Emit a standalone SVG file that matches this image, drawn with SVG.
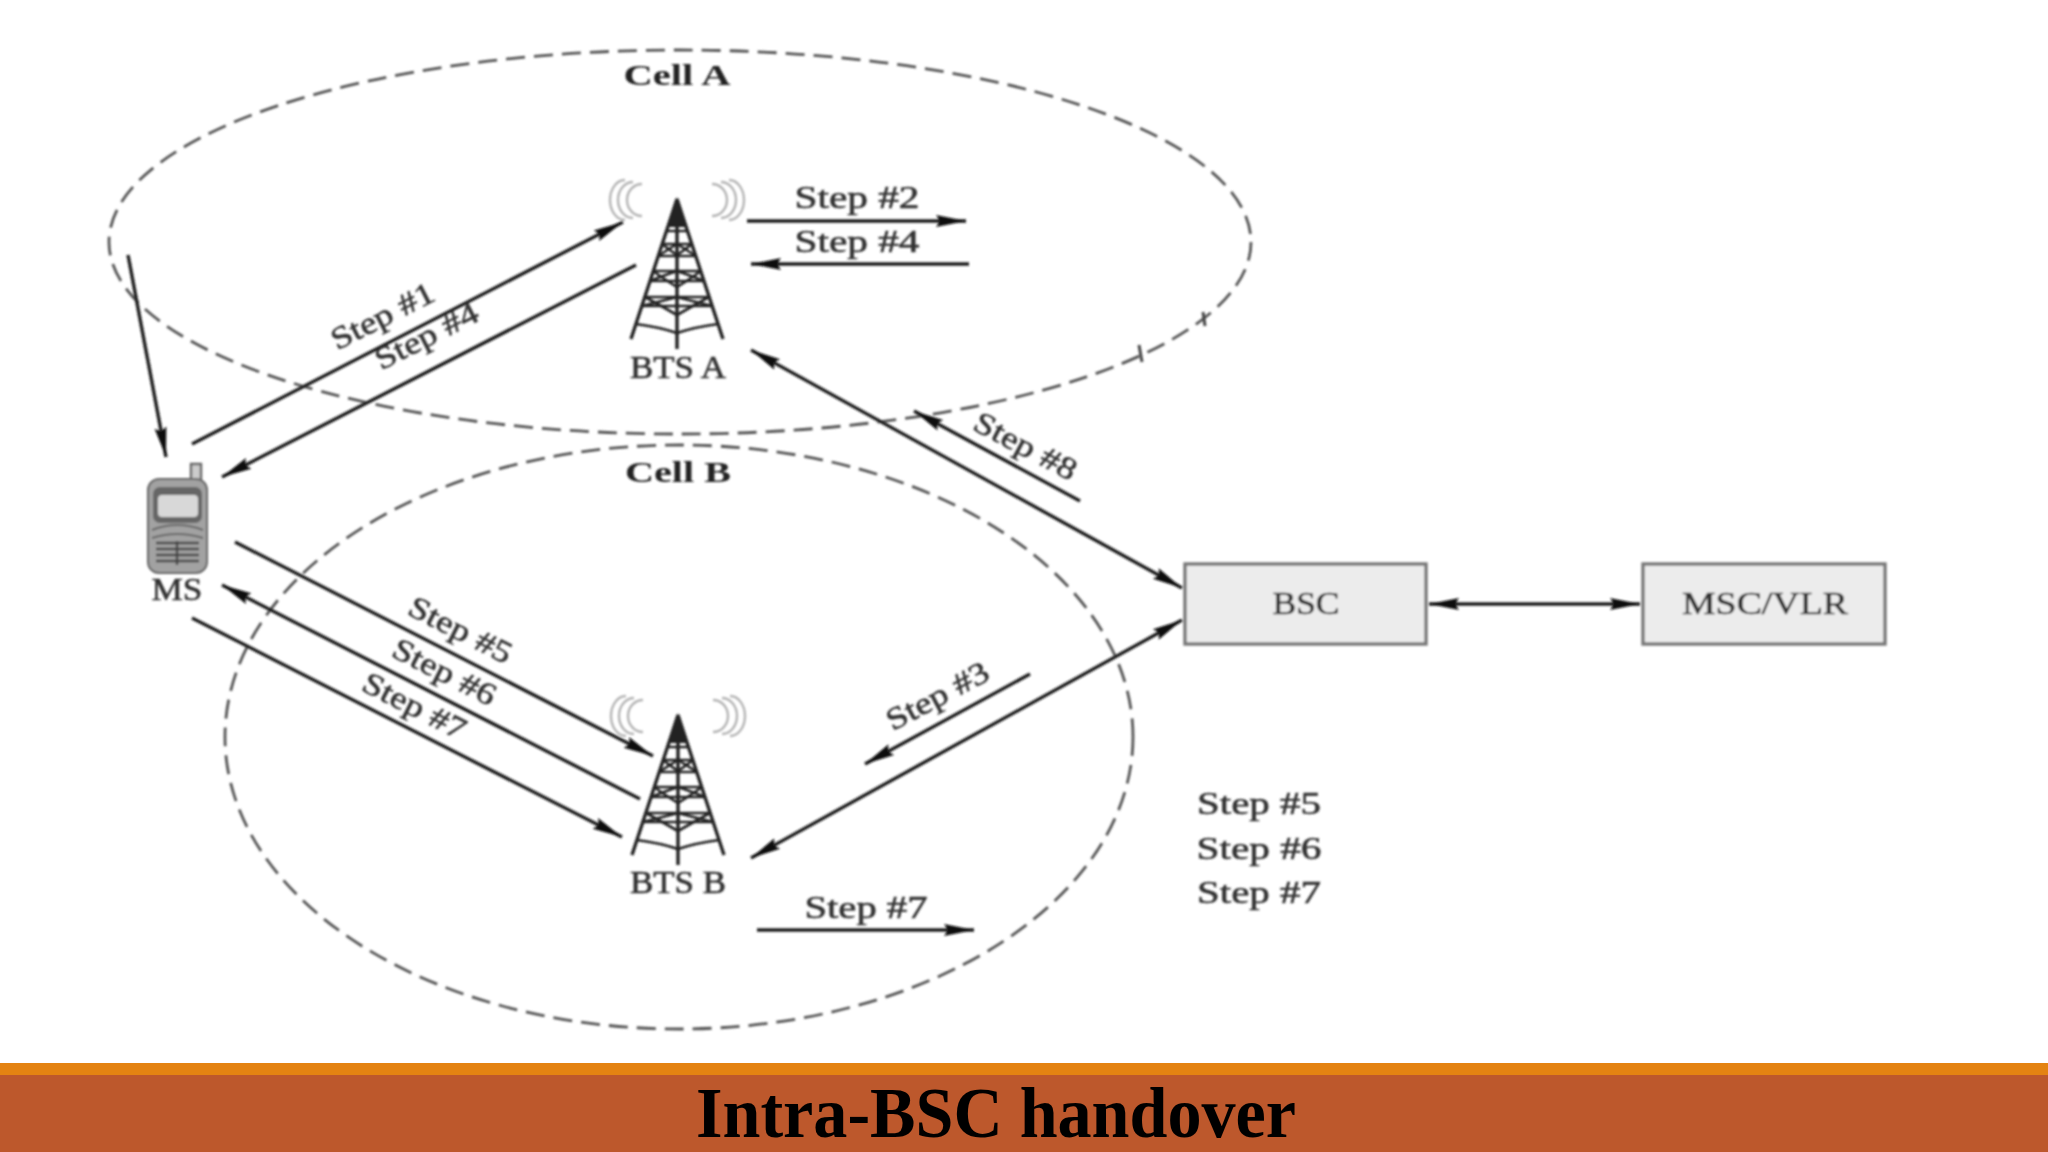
<svg xmlns="http://www.w3.org/2000/svg" xmlns:xlink="http://www.w3.org/1999/xlink" width="2048" height="1152" viewBox="0 0 2048 1152">
<style>
.t{font-family:"Liberation Serif","Times New Roman",serif;font-size:31px;fill:#333;stroke:#333;stroke-width:.6;text-anchor:middle}
.cell{font-family:"Liberation Serif","Times New Roman",serif;font-size:30px;font-weight:bold;fill:#222;text-anchor:middle}
.c{fill:none;stroke:#1c1c1c;stroke-width:3.4}
.a{marker-end:url(#h)}
.b{marker-start:url(#hs);marker-end:url(#h)}
.dash{fill:none;stroke:#555;stroke-width:2.8;stroke-dasharray:19 9}
.box{fill:#ececec;stroke:#777;stroke-width:3.4}
.tw{fill:none;stroke:#222;stroke-width:2.6}
.wv{fill:none;stroke:#b4b4b4;stroke-width:2.4}
.ph{fill:none;stroke:#666;stroke-width:2}
</style>
<defs>
<filter id="blur" x="-5%" y="-5%" width="110%" height="110%"><feGaussianBlur stdDeviation="1"/></filter>
<marker id="h" markerUnits="userSpaceOnUse" markerWidth="32" markerHeight="14" refX="30" refY="7" orient="auto"><path d="M0 1 L30 7 L0 13 L4 7 Z" fill="#111"/></marker>
<marker id="hs" markerUnits="userSpaceOnUse" markerWidth="32" markerHeight="14" refX="2" refY="7" orient="auto"><path d="M32 1 L2 7 L32 13 L28 7 Z" fill="#111"/></marker>
<g id="tower">
<path class="wv" d="M-52-19A15 20 0 0 0-52 21M-44-17A15 18 0 0 0-44 19M-35-15A15 16 0 0 0-35 17"/>
<path class="wv" d="M52-19A15 20 0 0 1 52 21M44-17A15 18 0 0 1 44 19M35-15A15 16 0 0 1 35 17"/>
<path class="tw" style="stroke-width:3.4" d="M0 0L-46 140M0 0L46 140M0 0V150"/>
<path d="M0-2L-9 28H9Z" fill="#222"/>
<path class="tw" d="M-10 32H10M-15 45H15M-19 57H19M-24 72H24M-27 82H27M-32 98H32M-35 107H35"/>
<path class="tw" d="M-15 45Q-6 52 0 56Q6 52 15 45M-24 72Q-10 82 0 88Q10 82 24 72M-32 98Q-14 108 0 116Q14 108 32 98M-41 125Q-18 128 0 134Q18 128 41 125"/>
<path class="tw" d="M-19 57Q-8 50 0 45Q8 50 19 57M-27 82Q-12 76 0 72Q12 76 27 82M-35 107Q-15 102 0 98Q15 102 35 107"/>
</g>
</defs>
<rect width="2048" height="1152" fill="#fff"/>
<g filter="url(#blur)">
<g id="cell-a">
<ellipse class="dash" cx="680" cy="242" rx="571" ry="192"/>
<path d="M1139 345L1142 362M1203 312L1205 326" stroke="#444" stroke-width="3" fill="none"/>
<text class="cell" x="677" y="85" textLength="107" lengthAdjust="spacingAndGlyphs">Cell A</text>
</g>
<g id="cell-b">
<ellipse class="dash" cx="679" cy="737" rx="454" ry="292"/>
<text class="cell" x="678" y="482" textLength="106" lengthAdjust="spacingAndGlyphs">Cell B</text>
</g>
<g id="connectors">
<path class="c a" d="M128 255L166 457"/>
<path class="c a" d="M192 444L623 222"/>
<path class="c a" d="M636 265L222 477"/>
<path class="c a" d="M747 221H966"/>
<path class="c a" d="M969 264H751"/>
<path class="c b" d="M751 350L1182 588"/>
<path class="c a" d="M1080 501L914 411"/>
<path class="c a" d="M1030 674L865 764"/>
<path class="c b" d="M1182 620L751 858"/>
<path class="c a" d="M235 542L653 756"/>
<path class="c a" d="M640 799L222 585"/>
<path class="c a" d="M192 618L622 837"/>
<path class="c a" d="M757 930H974"/>
<path class="c b" d="M1429 604H1640"/>
</g>
<g id="ms">
<path d="M191 484V464H201V484" fill="#ccc" stroke="#666" stroke-width="2.4"/>
<rect x="148" y="479" width="59" height="94" rx="11" fill="#a2a2a2" stroke="#666" stroke-width="2"/>
<rect x="153" y="487" width="49" height="36" rx="7" fill="#666"/>
<rect x="158" y="495" width="40" height="22" rx="4" fill="#d8d8d8"/>
<path class="ph" d="M152 530Q177 520 203 530M152 538Q177 530 203 538"/>
<path d="M156 543H199M156 549H199M156 555H199M156 561H199M177 541V565" fill="none" stroke="#444" stroke-width="2.4"/>
<text class="t" x="177" y="600" textLength="51" lengthAdjust="spacingAndGlyphs">MS</text>
</g>
<g id="bts-a">
<use href="#tower" xlink:href="#tower" x="677" y="199"/>
<text class="t" x="678" y="378" textLength="96" lengthAdjust="spacingAndGlyphs">BTS A</text>
</g>
<g id="bts-b">
<use href="#tower" xlink:href="#tower" x="678" y="715"/>
<text class="t" x="678" y="893" textLength="96" lengthAdjust="spacingAndGlyphs">BTS B</text>
</g>
<g id="bsc">
<rect class="box" x="1185" y="564" width="241" height="80"/>
<text class="t" x="1306" y="614" textLength="67" lengthAdjust="spacingAndGlyphs">BSC</text>
</g>
<g id="msc-vlr">
<rect class="box" x="1643" y="564" width="242" height="80"/>
<text class="t" x="1765" y="614" textLength="166" lengthAdjust="spacingAndGlyphs">MSC/VLR</text>
</g>
<g id="labels">
<text class="t" x="857" y="208" textLength="125" lengthAdjust="spacingAndGlyphs">Step #2</text>
<text class="t" x="857" y="252" textLength="125" lengthAdjust="spacingAndGlyphs">Step #4</text>
<text class="t" x="866" y="918" textLength="123" lengthAdjust="spacingAndGlyphs">Step #7</text>
<text class="t" x="1259" y="814" textLength="124" lengthAdjust="spacingAndGlyphs">Step #5</text>
<text class="t" x="1259" y="859" textLength="125" lengthAdjust="spacingAndGlyphs">Step #6</text>
<text class="t" x="1259" y="903" textLength="124" lengthAdjust="spacingAndGlyphs">Step #7</text>
<text class="t" transform="translate(383 317) rotate(-27)" y="9" textLength="112" lengthAdjust="spacingAndGlyphs">Step #1</text>
<text class="t" transform="translate(427 337) rotate(-27)" y="9" textLength="112" lengthAdjust="spacingAndGlyphs">Step #4</text>
<text class="t" transform="translate(1025 447) rotate(28)" y="9" textLength="112" lengthAdjust="spacingAndGlyphs">Step #8</text>
<text class="t" transform="translate(460 631) rotate(27)" y="9" textLength="112" lengthAdjust="spacingAndGlyphs">Step #5</text>
<text class="t" transform="translate(444 673) rotate(27)" y="9" textLength="112" lengthAdjust="spacingAndGlyphs">Step #6</text>
<text class="t" transform="translate(414 707) rotate(27)" y="9" textLength="112" lengthAdjust="spacingAndGlyphs">Step #7</text>
<text class="t" transform="translate(938 697) rotate(-28)" y="9" textLength="112" lengthAdjust="spacingAndGlyphs">Step #3</text>
</g>
</g>
<g id="title-bar">
<rect y="1063" width="2048" height="12" fill="#E48312"/>
<rect y="1075" width="2048" height="77" fill="#BD582C"/>
<text x="696" y="1137" font-family="'Liberation Serif','Times New Roman',serif" font-weight="bold" font-size="71" fill="#000" textLength="600" lengthAdjust="spacingAndGlyphs">Intra-BSC handover</text>
</g>
</svg>
